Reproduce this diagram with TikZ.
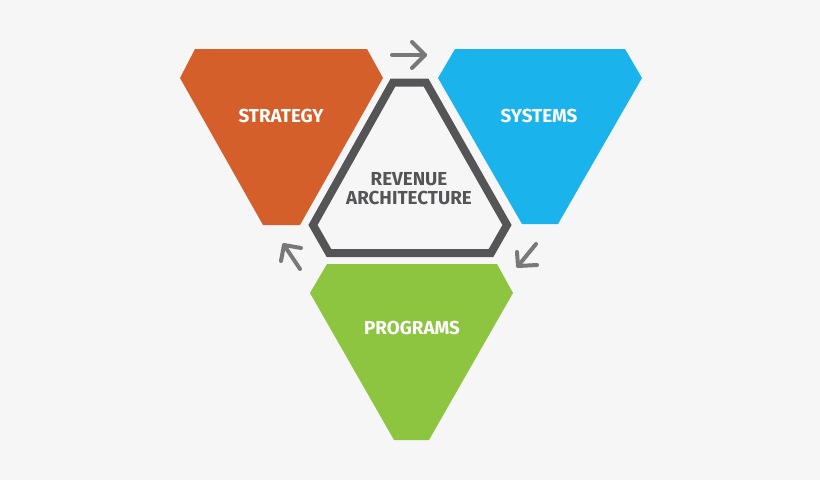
\documentclass[tikz,border=0pt]{standalone}
\usepackage{fontspec}
\setmainfont{Fira Sans}
\definecolor{bg}{HTML}{F6F6F6}
\definecolor{orng}{HTML}{D45F2A}
\definecolor{skyb}{HTML}{1AB3EC}
\definecolor{lgrn}{HTML}{8DC540}
\definecolor{dgry}{HTML}{555557}
\definecolor{agry}{HTML}{78787B}
\begin{document}
\begin{tikzpicture}[x=1pt,y=-1pt,
  lbl/.style={font=\bfseries\fontsize{18.8}{20}\selectfont, text=white, inner sep=0pt},
  clbl/.style={font=\bfseries\fontsize{18.8}{19}\selectfont, text=dgry, align=center, inner sep=0pt},
  arr/.style={draw=agry, line width=4pt, line cap=round, line join=round}]
\fill[bg] (0,0) rectangle (820,480);
\useasboundingbox (0,0) rectangle (820,480);
% shapes
\fill[orng] (195,49) -- (367,49) -- (383,78) -- (300,225) -- (263,225) -- (180,78) -- cycle;
\fill[skyb] (455,49) -- (625,49) -- (642,78) -- (558,224) -- (522,224) -- (438,78) -- cycle;
\fill[lgrn] (327,264) -- (497,264) -- (513,293) -- (429,440) -- (394,440) -- (310,293) -- cycle;
% triangle
\draw[dgry, line width=8pt, line join=miter] (393,82.5) -- (426,82.5) -- (507,225) -- (491,253) -- (329,253) -- (313,225) -- cycle;
% labels
\node[lbl] (strategy) at (281,116) {STRATEGY};
\node[lbl] (systems) at (539,116) {SYSTEMS};
\node[lbl] (programs) at (412,328) {PROGRAMS};
\node[clbl] (core) at (409,189) {REVENUE\\ARCHITECTURE};
% arrows
\coordinate (t1) at (392,55); \coordinate (t2) at (425,55);
\coordinate (t3) at (412,42); \coordinate (t4) at (412,68);
\draw[arr] (t1) -- (t2);
\draw[arr] (t3) -- (t2) -- (t4);
\coordinate (l1) at (300,269); \coordinate (l2) at (284,245);
\coordinate (l3) at (301,248); \coordinate (l4) at (281,261);
\draw[arr] (l1) -- (l2);
\draw[arr] (l3) -- (l2) -- (l4);
\coordinate (r1) at (536,244); \coordinate (r2) at (518,266);
\coordinate (r3) at (517,252); \coordinate (r4) at (537,265);
\draw[arr] (r1) -- (r2);
\draw[arr] (r3) -- (r2) -- (r4);
\end{tikzpicture}
\end{document}
